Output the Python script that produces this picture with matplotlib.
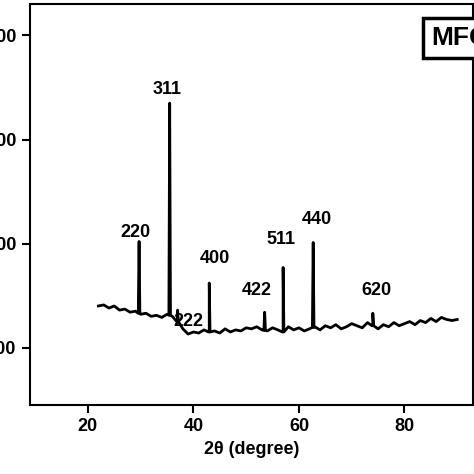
import matplotlib
matplotlib.use("Agg")
import matplotlib.pyplot as plt
import numpy as np

plt.rcParams['font.family'] = ['Liberation Sans', 'DejaVu Sans']
plt.rcParams['font.weight'] = 'bold'

base_x = list(range(22, 91))
base_y = [140,141,138,140,136,137,134,135,132,133,130,131,129,132,130,125,118,113,115,114,
          117,115,116,114,118,115,117,116,119,118,120,117,116,119,117,115,120,117,119,116,
          118,120,117,121,119,122,118,120,123,121,119,124,121,118,122,120,124,121,123,125,
          122,126,124,128,125,129,127,126,127]

peak_pos = [29.7, 35.5, 37.0, 43.0, 53.5, 57.0, 62.7, 74.0]
peak_top = [202, 335, 136, 162, 134, 177, 201, 133]
peak_lab = ['220', '311', '222', '400', '422', '511', '440', '620']
lab_x = [29.0, 35.0, 39.0, 44.0, 52.0, 56.5, 63.4, 74.6]
lab_y = [211, 348, 125, 186, 155, 204, 223, 155]

xs = [float(v) for v in base_x]
ys = [float(v) for v in base_y]
for p, t in zip(peak_pos, peak_top):
    b = float(np.interp(p, base_x, base_y))
    xs += [p - 0.15, p, p + 0.15]
    ys += [b, t, b]
order = np.argsort(xs, kind='stable')
xs = np.array(xs)[order]
ys = np.array(ys)[order]

fig = plt.figure(figsize=(4.74, 4.74), dpi=100)
ax = fig.add_axes([0.063, 0.146, 0.935, 0.845])
ax.plot(xs, ys, color='black', lw=2)
for lx, ly, t in zip(lab_x, lab_y, peak_lab):
    ax.text(lx, ly, t, ha='center', va='center', fontsize=13, fontweight='bold')

ax.set_xlim(9, 93)
ax.set_ylim(45, 430)
ax.set_xticks([20, 40, 60, 80])
ax.set_yticks([100, 200, 300, 400])
ax.set_yticklabels(['1000', '2000', '3000', '4000'])
ax.tick_params(direction='out', width=1.5, length=6, labelsize=13)
for lab in ax.get_xticklabels() + ax.get_yticklabels():
    lab.set_fontweight('bold')
for s in ax.spines.values():
    s.set_linewidth(1.5)
ax.set_xlabel('2θ (degree)', fontsize=13, fontweight='bold')
ax.text(0.905, 0.915, 'MFO', transform=ax.transAxes, fontsize=19, fontweight='bold',
        va='center', ha='left',
        bbox=dict(boxstyle='square,pad=0.3', fc='white', ec='black', lw=2.5))
fig.savefig('out.png', dpi=100)
